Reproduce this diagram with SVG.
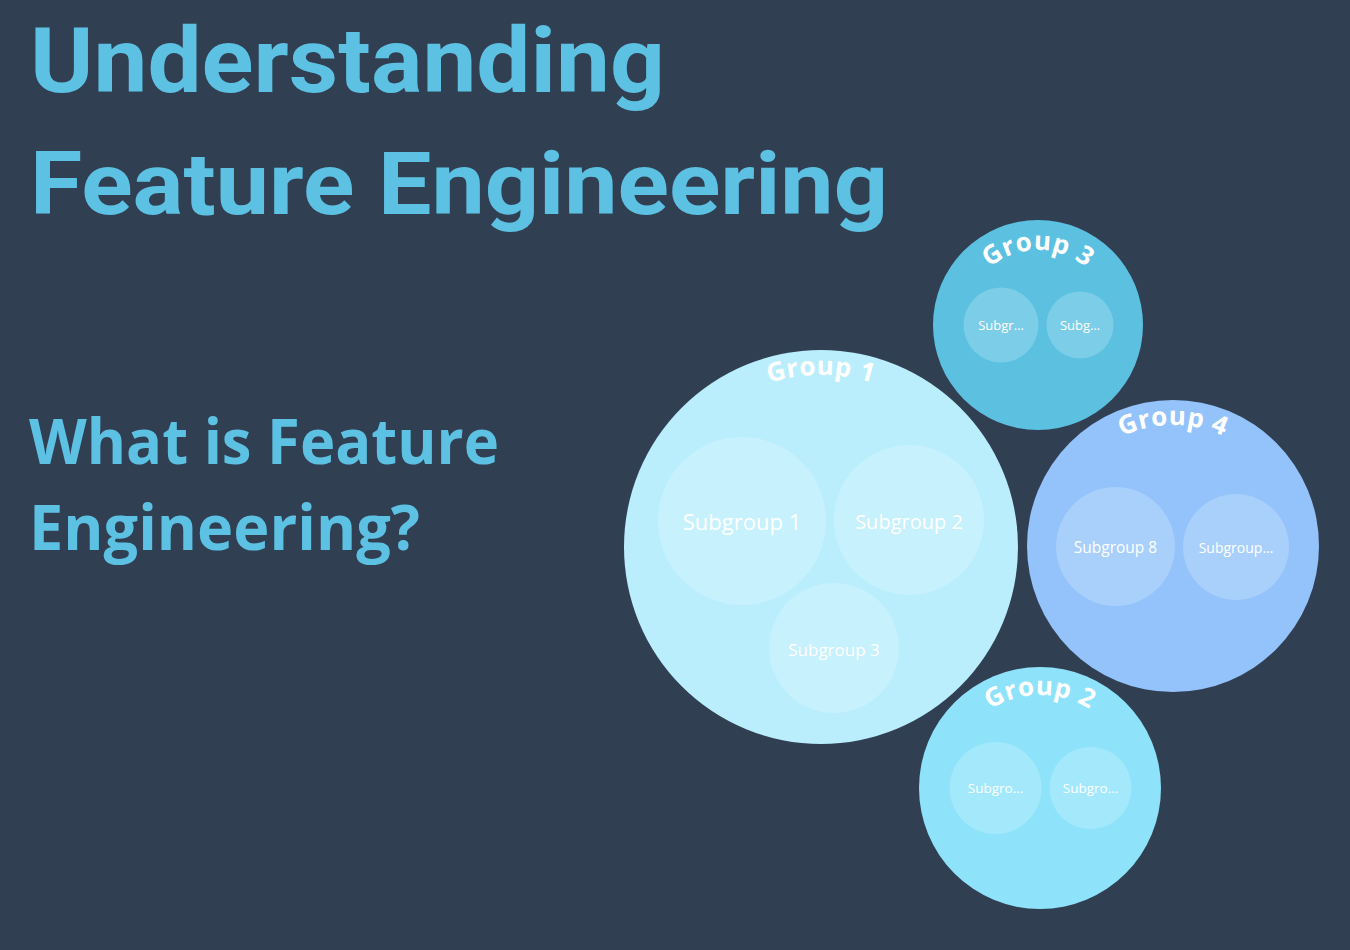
<svg xmlns="http://www.w3.org/2000/svg" width="1350" height="950" viewBox="0 0 1350 950">
<style>
.title{font-family:Roboto,"Liberation Sans",sans-serif;font-weight:700;fill:#5cc1e3}
.sub{font-family:"Open Sans","Liberation Sans",sans-serif;font-weight:700;fill:#5cc1e3}
.glabel{font-family:"Open Sans","Liberation Sans",sans-serif;font-weight:700;fill:#ffffff;font-size:26px;letter-spacing:0.5px}
.sg{fill:#ffffff;fill-opacity:0.2}
.sgt{font-family:"Open Sans","Liberation Sans",sans-serif;fill:#ffffff;text-anchor:middle;dominant-baseline:central}
</style>
<defs>
<path id="arc1" d="M649,547 A172,172 0 0 1 993,547"/>
<path id="arc2" d="M947,788 A93,93 0 0 1 1133,788"/>
<path id="arc3" d="M963,325 A75,75 0 0 1 1113,325"/>
<path id="arc4" d="M1052,546 A121,121 0 0 1 1294,546"/>
</defs>
<rect width="1350" height="950" fill="#313f53"/>
<text class="title" x="30" y="92" font-size="90" textLength="635" lengthAdjust="spacingAndGlyphs">Understanding</text>
<text class="title" x="30" y="214" font-size="88" textLength="858" lengthAdjust="spacingAndGlyphs">Feature Engineering</text>
<text class="sub" x="29" y="464" font-size="62" textLength="470" lengthAdjust="spacingAndGlyphs">What is Feature</text>
<text class="sub" x="29" y="550" font-size="62" textLength="391" lengthAdjust="spacingAndGlyphs">Engineering?</text>

<g id="group1">
<circle cx="821" cy="547" r="197" fill="#baeefc"/>
<text class="glabel"><textPath href="#arc1" startOffset="50%" text-anchor="middle">Group 1</textPath></text>
<g id="subgroup1"><circle class="sg" cx="742" cy="521" r="84"/><text class="sgt" x="742" y="521" font-size="22">Subgroup 1</text></g>
<g id="subgroup2"><circle class="sg" cx="909" cy="520" r="75"/><text class="sgt" x="909" y="521" font-size="20">Subgroup 2</text></g>
<g id="subgroup3"><circle class="sg" cx="834" cy="648" r="65"/><text class="sgt" x="834" y="649" font-size="17">Subgroup 3</text></g>
</g>

<g id="group3">
<circle cx="1038" cy="325" r="105" fill="#5cc1e1"/>
<text class="glabel"><textPath href="#arc3" startOffset="50%" text-anchor="middle">Group 3</textPath></text>
<g id="subgroup3a"><circle class="sg" cx="1001" cy="325" r="37.5"/><text class="sgt" x="1001" y="325" font-size="13">Subgr…</text></g>
<g id="subgroup3b"><circle class="sg" cx="1080" cy="325" r="33.5"/><text class="sgt" x="1080" y="325" font-size="13">Subg…</text></g>
</g>

<g id="group4">
<circle cx="1173" cy="546" r="146" fill="#94c3fb"/>
<text class="glabel"><textPath href="#arc4" startOffset="50%" text-anchor="middle">Group 4</textPath></text>
<g id="subgroup8"><circle class="sg" cx="1115.5" cy="546.5" r="59.5"/><text class="sgt" x="1115.5" y="546.5" font-size="15.5">Subgroup 8</text></g>
<g id="subgroup9"><circle class="sg" cx="1236" cy="547" r="53"/><text class="sgt" x="1236" y="547" font-size="14">Subgroup…</text></g>
</g>

<g id="group2">
<circle cx="1040" cy="788" r="121" fill="#8ee3fb"/>
<text class="glabel"><textPath href="#arc2" startOffset="50%" text-anchor="middle">Group 2</textPath></text>
<g id="subgroup4"><circle class="sg" cx="995.5" cy="788" r="46"/><text class="sgt" x="995.5" y="788" font-size="13.5">Subgro…</text></g>
<g id="subgroup5"><circle class="sg" cx="1090.5" cy="788" r="41"/><text class="sgt" x="1090.5" y="788" font-size="13.5">Subgro…</text></g>
</g>
<g id="connectors"/>
</svg>
